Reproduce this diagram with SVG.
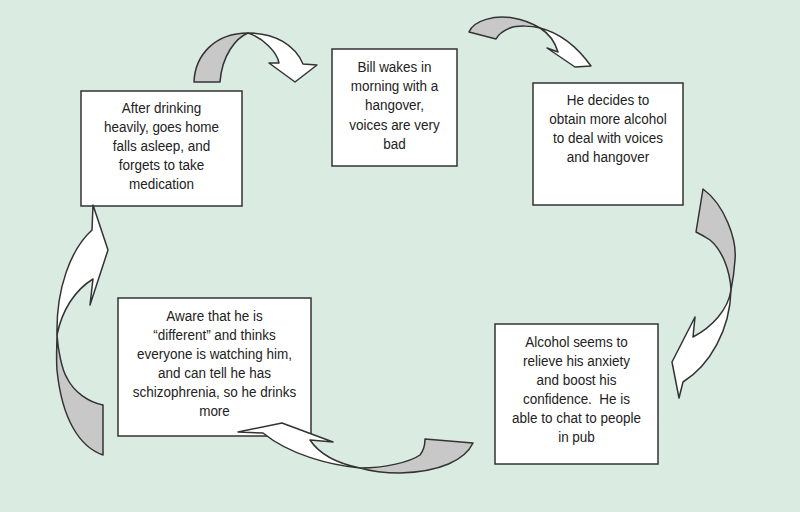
<svg xmlns="http://www.w3.org/2000/svg" width="800" height="512" viewBox="0 0 800 512">
<style>
.box{fill:#fff;stroke:#333;stroke-width:1.5}
.t{font-family:"Liberation Sans",Arial,sans-serif;font-size:15.5px;fill:#222;text-anchor:middle}
.g{fill:#c8c8c8;stroke:#333;stroke-width:1.5;stroke-linejoin:round}
.w{fill:#fff;stroke:#333;stroke-width:1.5;stroke-linejoin:round}
</style>
<rect width="800" height="512" fill="#daebe1"/>
<g id="node1">
<rect class="box" x="81" y="91" width="161" height="115"/>
<g class="t" transform="translate(161.5,0) scale(0.87,1)">
<text x="0" y="113">After drinking</text>
<text x="0" y="132">heavily, goes home</text>
<text x="0" y="151">falls asleep, and</text>
<text x="0" y="170">forgets to take</text>
<text x="0" y="189">medication</text>
</g>
</g>
<g id="node2">
<rect class="box" x="332" y="49" width="125" height="117"/>
<g class="t" transform="translate(394.5,0) scale(0.87,1)">
<text x="0" y="72">Bill wakes in</text>
<text x="0" y="91">morning with a</text>
<text x="0" y="110">hangover,</text>
<text x="0" y="130">voices are very</text>
<text x="0" y="149">bad</text>
</g>
</g>
<g id="node3">
<rect class="box" x="533" y="83" width="150" height="122"/>
<g class="t" transform="translate(608,0) scale(0.87,1)">
<text x="0" y="105">He decides to</text>
<text x="0" y="124">obtain more alcohol</text>
<text x="0" y="143">to deal with voices</text>
<text x="0" y="162">and hangover</text>
</g>
</g>
<g id="node4">
<rect class="box" x="495" y="324" width="163" height="140"/>
<g class="t" transform="translate(576.5,0) scale(0.87,1)">
<text x="0" y="347">Alcohol seems to</text>
<text x="0" y="366">relieve his anxiety</text>
<text x="0" y="385">and boost his</text>
<text x="0" y="404" xml:space="preserve">confidence.  He is</text>
<text x="0" y="423">able to chat to people</text>
<text x="0" y="442">in pub</text>
</g>
</g>
<g id="node5">
<rect class="box" x="118" y="298" width="193" height="138"/>
<g class="t" transform="translate(214.5,0) scale(0.87,1)">
<text x="0" y="321">Aware that he is</text>
<text x="0" y="340">“different” and thinks</text>
<text x="0" y="359">everyone is watching him,</text>
<text x="0" y="378">and can tell he has</text>
<text x="0" y="397">schizophrenia, so he drinks</text>
<text x="0" y="416">more</text>
</g>
</g>
<g id="connectors">
<g id="arrow1">
<path class="g" d="M194,82 C195,55 215,33 248,33 C236,38 222,55 220,82 Z"/>
<path class="w" d="M248,33 C275,33 295,45 303,64 L317,65 L295,82 L269,63 L279,63 C277,52 263,38 248,33 Z"/>
</g>
<g id="arrow2">
<path class="g" d="M469,32 C474,20 495,15 513,18 C525,20 535,25 540,28 C532,26 518,25 510,28 C503,31 498,35 496,39 Z"/>
<path class="w" d="M540,28 C560,33 578,48 591,66 L575,67 L547,48 L558,52 C555,42 548,33 540,28 Z"/>
</g>
<g id="arrow3">
<path class="g" d="M703,189 C725,205 737,240 735,260 C734,275 732,285 731,290 C730,270 722,250 710,240 C704,236 698,233 696,232 Z"/>
<path class="w" d="M731,290 C730,330 710,365 683,382 L679,398 L672,362 L695,317 L693,337 C712,327 728,310 731,290 Z"/>
</g>
<g id="arrow4">
<path class="g" d="M425,439 L473,443 C465,460 440,472 400,473 C385,473 370,471 360,468 C385,468 410,462 420,455 C424,450 425,444 425,439 Z"/>
<path class="w" d="M360,468 C330,465 290,455 263,433 L238,432 L282,423 L333,442 L310,440 C320,455 340,464 360,468 Z"/>
</g>
<g id="arrow5">
<path class="g" d="M103,405 L103,455 C80,447 62,420 57,370 C56,355 57,345 57,335 C58,350 62,370 67,378 C74,392 88,402 103,405 Z"/>
<path class="w" d="M57,335 C56,290 70,250 92,230 L93,205 L108,250 L90,305 L93,279 C75,290 62,310 57,335 Z"/>
</g>
</g>
</svg>
